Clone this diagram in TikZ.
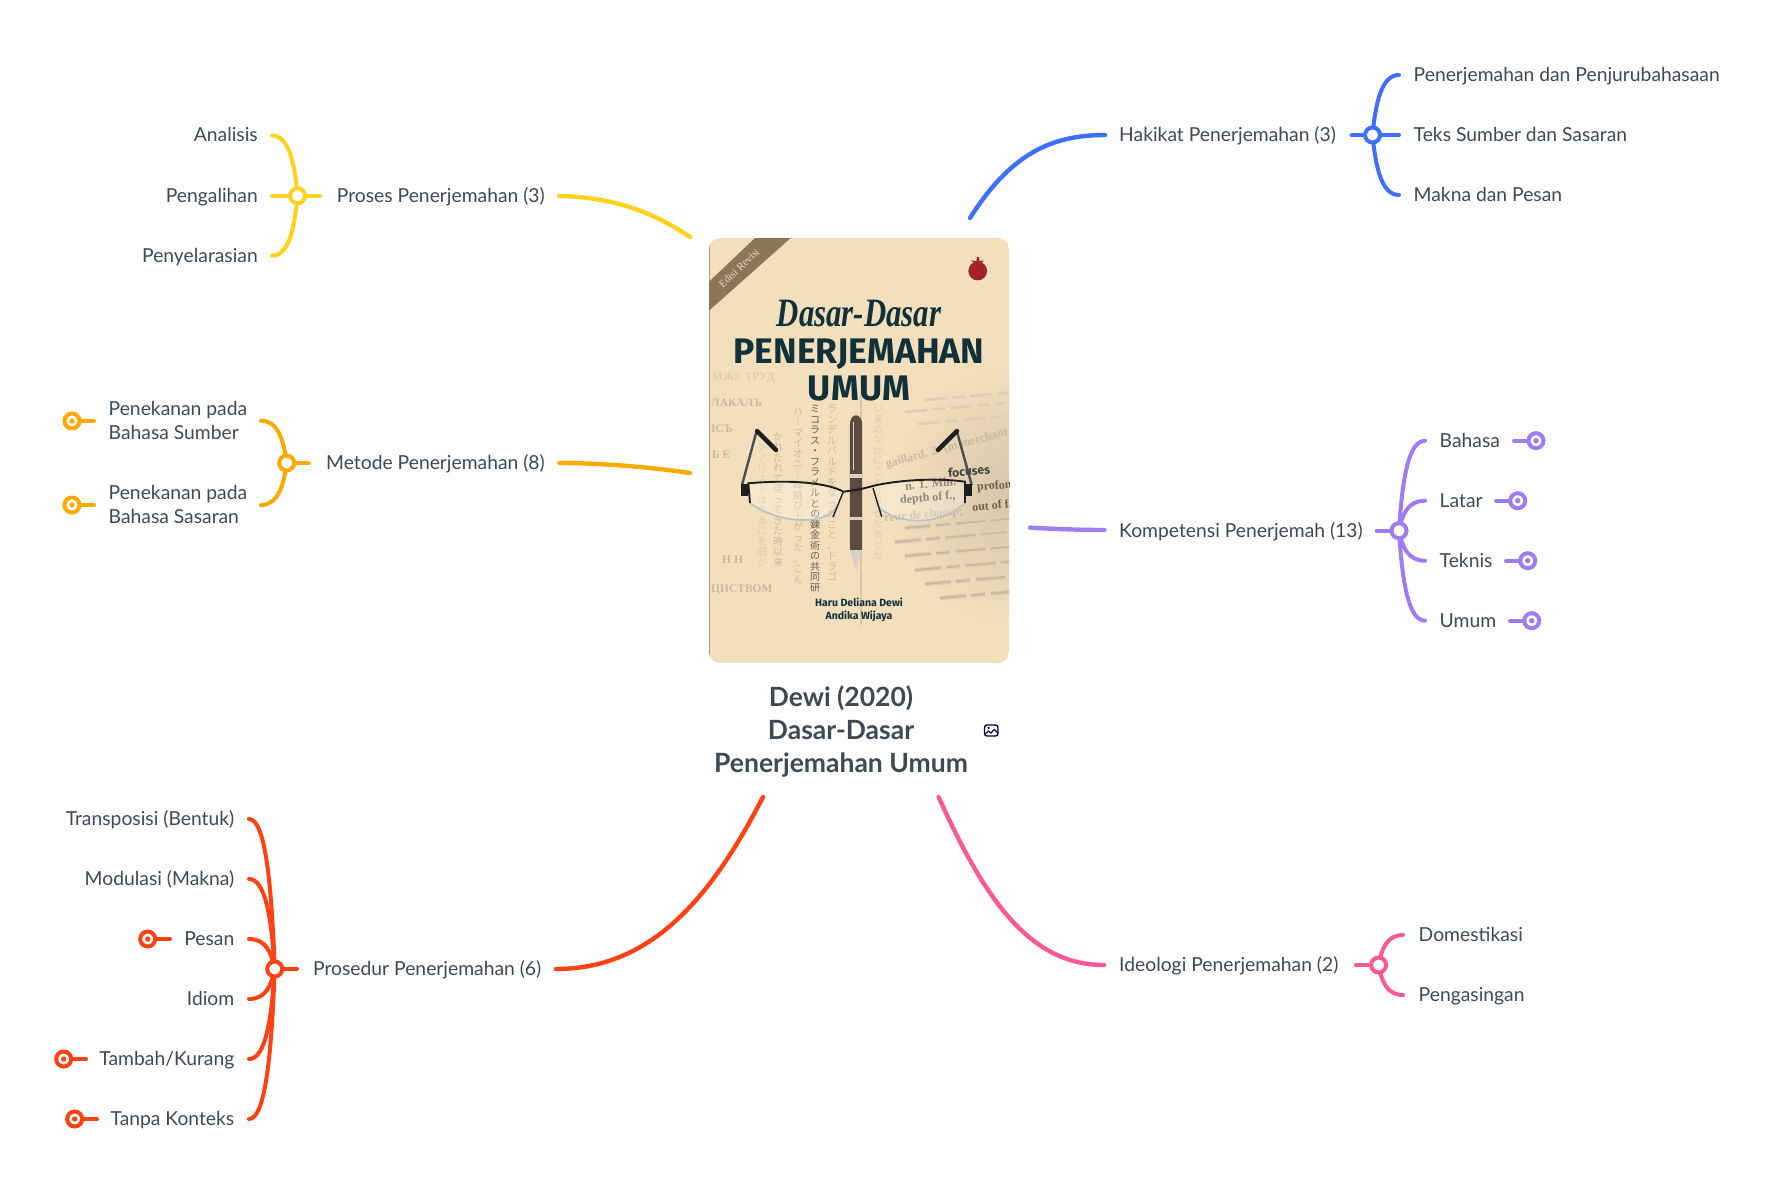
\documentclass[tikz,border=0pt]{standalone}
\usepackage{fontspec}
\usetikzlibrary{calc,backgrounds}
\setmainfont{Lato}
\newfontfamily\jpf{Noto Sans CJK JP}
\newfontfamily\serf{Liberation Serif}
\newfontfamily\covf{Fira Sans}
\definecolor{ink}{HTML}{3F4953}
\definecolor{cblue}{HTML}{3F6FFF}
\definecolor{cyel}{HTML}{FFD21F}
\definecolor{corg}{HTML}{FFAA00}
\definecolor{cpur}{HTML}{A07CF2}
\definecolor{cred}{HTML}{FF4214}
\definecolor{cpink}{HTML}{FB5896}
\definecolor{paper}{HTML}{F3DFBC}
\definecolor{pagemid}{HTML}{F2E0C2}
\definecolor{ribbon}{HTML}{8B7757}
\definecolor{deepteal}{HTML}{10303A}
\definecolor{faintA}{HTML}{DCCDB0}
\definecolor{faintB}{HTML}{C9BA9F}
\definecolor{darkA}{HTML}{6B5E4C}
\definecolor{blurA}{HTML}{DDCDB2}
\definecolor{blurB}{HTML}{C9B99E}
\definecolor{penbrown}{HTML}{5B4A40}
\definecolor{silver}{HTML}{D5D2C8}
\definecolor{applered}{HTML}{A3232A}
\definecolor{rim}{HTML}{B4C4C8}
\definecolor{framek}{HTML}{1E1E1E}
\definecolor{armk}{HTML}{474D55}
\newcommand\lblfont{\fontsize{19.3}{24}\selectfont}
\tikzset{
  lbl/.style={font=\lblfont,text=ink,inner sep=0pt},
  lw/.style={lbl,anchor=base west,yshift=-6.3pt},
  le/.style={lbl,anchor=base east,yshift=-6.3pt},
  two/.style={lbl,anchor=west,align=left},
  hub/.style={circle,draw=#1,fill=white,line width=4pt,minimum size=15pt,inner sep=0pt},
  conn/.style={draw=#1,line width=4pt,line cap=round},
  trunk/.style={draw=#1,line width=4.4pt,line cap=round},
  jpc/.style={font=\fontsize{10}{10.5}\selectfont\jpf,align=center,anchor=north,inner sep=0pt},
  cyr/.style={font=\fontsize{11.5}{11.5}\selectfont\serf\bfseries,text=faintB,inner sep=0pt,anchor=west},
  dict/.style={font=\fontsize{12}{12}\selectfont\serf\bfseries,inner sep=0pt,rotate=5,anchor=west},
  blurwide/.style={blurA,line width=4.4pt,dash pattern=on 26pt off 5pt on 14pt off 6pt on 30pt off 5pt},
  blurcore/.style={blurB,line width=1.8pt,dash pattern=on 26pt off 5pt on 14pt off 6pt on 30pt off 5pt},
}
\newcommand\bcurve[3]{\draw[conn=#1] let \p1=(#2),\p2=(#3) in (\p1) .. controls ({\x1+0.12*(\x2-\x1)},{\y1+0.55*(\y2-\y1)}) and ({\x1+0.35*(\x2-\x1)},{\y2}) .. (\p2);}
\newcommand\tagmark[3]{\node[hub=#1] (#2) at (#3) {};\fill[#1] (#2.center) circle (2.7pt);}
\begin{document}
\begin{tikzpicture}[x=1pt,y=-1pt]
\useasboundingbox (0,0) rectangle (1783,1194);

% ---------- book cover ----------
\begin{scope}
\clip[rounded corners=11pt] (709,238) rectangle (1009,663);
\fill[paper] (709,238) rectangle (1009,663);
\shade[inner color=blurB!70!pagemid,outer color=paper] (1015,495) ellipse (125pt and 135pt);
\fill[faintB!70!paper] (860,395) rectangle (861.5,625);
\fill[ribbon!70!paper] (709,238) rectangle (710.2,663);
% left page print
\node[cyr,text=faintA] (cy1) at (712,378) {МЖЕ  ТРУД};
\node[cyr] (cy2) at (711,403) {ЛАКАЛЪ};
\node[cyr] (cy3) at (711,429) {ІСЪ};
\node[cyr] (cy4) at (711,590) {ЦИСТВОМ};
\node[cyr] (cy5) at (722,560) {Н  Н};
\node[cyr] (cy6) at (712,455) {Б  Е};
% columns of Japanese print
\node[jpc,text=faintA] (jp0) at (762,432) {キ\\ン\\ノ\\リ\\ス\\ト\\は\\の\\あ\\に\\を\\脱\\が};
\node[jpc,text=faintB] (jp1) at (778,432) {か\\れ\\た\\れ\\て\\戻\\っ\\て\\き\\た\\時\\以\\来};
\node[jpc,text=faintB] (jp2) at (798,408) {ハ\\｜\\マ\\イ\\オ\\ニ\\｜\\は\\跳\\び\\上\\が\\っ\\た\\。\\こ\\ん};
\node[jpc,text=darkA] (jp3) at (815,405) {ミ\\コ\\ラ\\ス\\・\\フ\\ラ\\メ\\ル\\と\\の\\錬\\金\\術\\の\\共\\同\\研};
\node[jpc,text=faintB] (jp4) at (832,405) {ラ\\ン\\デ\\ル\\バ\\ル\\ド\\を\\な\\っ\\た\\こ\\と\\、\\ド\\ラ\\ゴ};
\node[jpc,text=faintA] (jp5) at (878,405) {い\\ま\\の\\な\\か\\に\\こ\\と\\を\\見\\せ\\た\\あ\\と\\だ};
% right page print
\foreach \yy/\xa in {528/905,542/895,556/905,570/915,584/925,598/940}{
  \draw[blurwide] (\xa,\yy) -- ++(125,-11);
  \draw[blurcore] (\xa,\yy) -- ++(125,-11);}
\foreach \yy/\xa in {400/925,412/905,424/918}
  \draw[blurA,line width=2.4pt,dash pattern=on 22pt off 6pt on 12pt off 5pt] (\xa,\yy) -- ++(100,-9);
\node[dict,text=blurB,rotate=10] (d3) at (886,465) {gaillard. 2. (in merchant ve};
\node[dict,text=black!75,font=\fontsize{12}{12}\selectfont\covf\bfseries] (d4) at (948,473) {focuses};
\node[dict,text=darkA] (d5) at (900,501) {depth of f.,};
\node[dict,text=darkA] (d6) at (905,486) {n. 1. Min.};
\node[dict,text=blurB] (d7) at (884,519) {reur de champ;};
\node[dict,text=darkA] (d8) at (972,507) {out of f.};
\node[dict,text=darkA] (d9) at (977,488) {profond};
\end{scope}
% ribbon
\fill[ribbon] (755,238) -- (790.7,238) -- (709,310.7) -- (709,281.7) -- cycle;
\node[font=\fontsize{10.5}{10.5}\selectfont\serf,text=paper,rotate=43,inner sep=0pt] (edisi) at (739,268) {Edisi Revisi};
% apple
\fill[applered] (977.7,271) circle (9.4pt);
\fill[applered] (977,257) -- (979,257) -- (979.5,261) -- (984,260.5) -- (978,266) -- (971,260.5) -- (976.5,261) -- cycle;
% cover title
\node[inner sep=0pt,text=deepteal] (ctitle) at (859,314) {\scalebox{0.88}[1.15]{\fontsize{35}{35}\selectfont\serf\bfseries\itshape Dasar-Dasar}};
\node[font=\fontsize{35.5}{35}\selectfont\covf\bfseries,text=deepteal,inner sep=0pt] (cpen) at (859,354) {PENERJEMAHAN};
\node[font=\fontsize{35.5}{35}\selectfont\covf\bfseries,text=deepteal,inner sep=0pt] (cumum) at (859,388) {UMUM};
\node[font=\fontsize{10.5}{10.5}\selectfont\covf\bfseries,text=deepteal,inner sep=0pt] (cauth1) at (859,602) {Haru Deliana Dewi};
\node[font=\fontsize{10.5}{10.5}\selectfont\covf\bfseries,text=deepteal,inner sep=0pt] (cauth2) at (859,616) {Andika Wijaya};
% pen
\fill[penbrown] (849.8,425) .. controls (850,412) and (862,412) .. (862.2,425) -- (862,550) -- (850,550) -- cycle;
\draw[silver,line width=1.6pt] (853.5,422) -- (853.5,470);
\fill[silver] (849.8,473.5) rectangle (862.2,477.5);
\fill[silver] (850,516.5) rectangle (862,520);
\fill[silver] (850,550) -- (862,550) -- (856.2,572) -- cycle;
% glasses
\fill[white,opacity=.25] (750,484) .. controls (790,480) and (830,485) .. (843,492) -- (836.7,507) .. controls (826.7,525) and (780,525) .. (750,503) -- cycle;
\fill[white,opacity=.25] (873,488) .. controls (900,481) and (940,479) .. (965,482) -- (965,503) .. controls (940,527) and (896.7,525) .. (878,507) -- cycle;
\draw[rim,line width=1.6pt] (750,503) .. controls (780,525) and (826.7,525) .. (836.7,506.7);
\draw[rim,line width=1.6pt] (878.3,506.7) .. controls (896.7,525) and (940,526.7) .. (965,503);
\draw[framek,line width=1.9pt] (750,503) -- (748.3,483.3) .. controls (796.7,479) and (830,484) .. (843.3,491.7) -- (860,489.3) -- (876.7,485) .. controls (913.3,478) and (945,479) .. (965,481.7) -- (965,503);
\draw[framek,line width=1.4pt] (843.3,491.7) -- (833,517);
\draw[framek,line width=1.4pt] (873,488) -- (881.7,516.7);
\draw[armk,line width=2.4pt] (742,485) -- (756.7,430.7);
\draw[armk,line width=2.4pt] (971.7,485) -- (956.7,430.7);
\draw[framek,line width=4.4pt,line cap=round] (757,431) -- (776,450);
\draw[framek,line width=4.4pt,line cap=round] (957,431) -- (938,450);
\fill[framek] (741,484) rectangle (748,496);
\fill[framek] (965,484) rectangle (972,496);

% ---------- central title ----------
\node[font=\fontsize{26.5}{32.6}\selectfont\bfseries,text=ink,align=center,inner sep=0pt] (root) at (841,731.5) {Dewi (2020)\\Dasar-Dasar\\Penerjemahan Umum};
\draw[black!80!blue,line width=1.3pt,rounded corners=2.5pt] (984.5,725) rectangle (998,736) ;
\draw[black!80!blue,line width=1.1pt] (985,734) -- (988.5,731) -- (991,733) -- (994,729.5) -- (998,733);
\fill[black!80!blue] (988.6,728) circle (1.2pt);

% ---------- free ends of trunks ----------
\coordinate (a1) at (970,218);    \coordinate (a2) at (1105,135);
\coordinate (b1) at (690,237);    \coordinate (b2) at (559,196);
\coordinate (c1) at (690,473);    \coordinate (c2) at (559.5,463);
\coordinate (d1) at (1030,527.6); \coordinate (d2) at (1104.5,530);
\coordinate (e1) at (763,797);    \coordinate (e2) at (556,969);
\coordinate (f1) at (938.6,797);  \coordinate (f2) at (1104,965);
\draw[trunk=cblue] (a1) .. controls (1010,155) and (1050,135) .. (a2);
\draw[trunk=cyel] (b2) .. controls (610,197) and (650,210) .. (b1);
\draw[trunk=corg] (c2) .. controls (600,463) and (650,467) .. (c1);
\draw[trunk=cpur] (d1) .. controls (1055,529) and (1080,530) .. (d2);
\draw[trunk=cred] (e2) .. controls (650,969) and (710,900) .. (e1);
\draw[trunk=cpink] (f1) .. controls (985,900) and (1030,965) .. (f2);

% ---------- Hakikat ----------
\node[lw] (n1) at (1119,135) {Hakikat Penerjemahan (3)};
\node[hub=cblue] (h1) at (1372.5,135) {};
\coordinate (h1in) at (1351.5,135);
\coordinate (h1a) at (1399,75); \coordinate (h1b) at (1399,135); \coordinate (h1c) at (1399,195);
\node[lw] (t1a) at (1413.5,75) {Penerjemahan dan Penjurubahasaan};
\node[lw] (t1b) at (1413.5,135) {Teks Sumber dan Sasaran};
\node[lw] (t1c) at (1413.5,195) {Makna dan Pesan};

% ---------- Proses ----------
\node[le] (n2) at (545,195.7) {Proses Penerjemahan (3)};
\node[hub=cyel] (h2) at (297.6,195.7) {};
\coordinate (h2in) at (320,195.7);
\coordinate (h2a) at (272,135.5); \coordinate (h2b) at (272,195.7); \coordinate (h2c) at (272,255.7);
\node[le] (t2a) at (258,135.5) {Analisis};
\node[le] (t2b) at (258,195.7) {Pengalihan};
\node[le] (t2c) at (258,255.7) {Penyelarasian};

% ---------- Metode ----------
\node[le] (n3) at (545,463) {Metode Penerjemahan (8)};
\node[hub=corg] (h3) at (286.7,463) {};
\coordinate (h3in) at (308.7,463);
\coordinate (h3a) at (261,420.7); \coordinate (h3b) at (261,505);
\node[two] (t3a) at (108.5,420.5) {Penekanan pada\\Bahasa Sumber};
\node[two] (t3b) at (108.5,504.5) {Penekanan pada\\Bahasa Sasaran};
\coordinate (s3a) at (94,421); \coordinate (s3b) at (94,505);
\tagmark{corg}{m3a}{72,421}
\tagmark{corg}{m3b}{72,505}

% ---------- Kompetensi ----------
\node[lw] (n4) at (1119,530.7) {Kompetensi Penerjemah (13)};
\node[hub=cpur] (h4) at (1399,530.7) {};
\coordinate (h4in) at (1376.7,530.7);
\coordinate (h4a) at (1425,440.7); \coordinate (h4b) at (1425,500.7);
\coordinate (h4c) at (1425,560.7); \coordinate (h4d) at (1425,620.7);
\node[lw] (t4a) at (1439.5,440.7) {Bahasa};
\node[lw] (t4b) at (1439.5,500.7) {Latar};
\node[lw] (t4c) at (1439.5,560.7) {Teknis};
\node[lw] (t4d) at (1439.5,620.7) {Umum};
\coordinate (s4a) at (1514,440.7); \coordinate (s4b) at (1496,500.7);
\coordinate (s4c) at (1506,560.7); \coordinate (s4d) at (1510,620.7);
\tagmark{cpur}{m4a}{1536,440.7}
\tagmark{cpur}{m4b}{1517.7,500.7}
\tagmark{cpur}{m4c}{1527.7,560.7}
\tagmark{cpur}{m4d}{1531.7,620.7}

% ---------- Prosedur ----------
\node[le] (n5) at (541.5,969) {Prosedur Penerjemahan (6)};
\node[hub=cred] (h5) at (274.7,969) {};
\coordinate (h5in) at (297,969);
\coordinate (h5a) at (249,819); \coordinate (h5b) at (249,879); \coordinate (h5c) at (249,939);
\coordinate (h5d) at (249,999); \coordinate (h5e) at (249,1059); \coordinate (h5f) at (249,1119);
\node[le] (t5a) at (234.5,819) {Transposisi (Bentuk)};
\node[le] (t5b) at (234.5,879) {Modulasi (Makna)};
\node[le] (t5c) at (234.5,939) {Pesan};
\node[le] (t5d) at (234.5,999) {Idiom};
\node[le] (t5e) at (234.5,1059) {Tambah/Kurang};
\node[le] (t5f) at (234.5,1119) {Tanpa Konteks};
\coordinate (s5c) at (170,939); \coordinate (s5e) at (86,1059); \coordinate (s5f) at (97,1119);
\tagmark{cred}{m5c}{147.7,939}
\tagmark{cred}{m5e}{63.7,1059}
\tagmark{cred}{m5f}{74.7,1119}

% ---------- Ideologi ----------
\node[lw] (n6) at (1119,965) {Ideologi Penerjemahan (2)};
\node[hub=cpink] (h6) at (1378.6,965) {};
\coordinate (h6in) at (1356,965);
\coordinate (h6a) at (1403,935); \coordinate (h6b) at (1403,995);
\node[lw] (t6a) at (1418.5,935) {Domestikasi};
\node[lw] (t6b) at (1418.5,995) {Pengasingan};

% ---------- connectors ----------
\begin{scope}[on background layer]
\draw[conn=cblue] (h1in) -- (h1);
\bcurve{cblue}{h1}{h1a} \draw[conn=cblue] (h1) -- (h1b); \bcurve{cblue}{h1}{h1c}
\draw[conn=cyel] (h2in) -- (h2);
\bcurve{cyel}{h2}{h2a} \draw[conn=cyel] (h2) -- (h2b); \bcurve{cyel}{h2}{h2c}
\draw[conn=corg] (h3in) -- (h3);
\bcurve{corg}{h3}{h3a} \bcurve{corg}{h3}{h3b}
\draw[conn=corg] (s3a) -- (m3a); \draw[conn=corg] (s3b) -- (m3b);
\draw[conn=cpur] (h4in) -- (h4);
\bcurve{cpur}{h4}{h4a} \bcurve{cpur}{h4}{h4b} \bcurve{cpur}{h4}{h4c} \bcurve{cpur}{h4}{h4d}
\draw[conn=cpur] (s4a) -- (m4a); \draw[conn=cpur] (s4b) -- (m4b);
\draw[conn=cpur] (s4c) -- (m4c); \draw[conn=cpur] (s4d) -- (m4d);
\draw[conn=cred] (h5in) -- (h5);
\bcurve{cred}{h5}{h5a} \bcurve{cred}{h5}{h5b} \bcurve{cred}{h5}{h5c}
\bcurve{cred}{h5}{h5d} \bcurve{cred}{h5}{h5e} \bcurve{cred}{h5}{h5f}
\draw[conn=cred] (s5c) -- (m5c); \draw[conn=cred] (s5e) -- (m5e); \draw[conn=cred] (s5f) -- (m5f);
\draw[conn=cpink] (h6in) -- (h6);
\bcurve{cpink}{h6}{h6a} \bcurve{cpink}{h6}{h6b}
\end{scope}
\end{tikzpicture}
\end{document}
